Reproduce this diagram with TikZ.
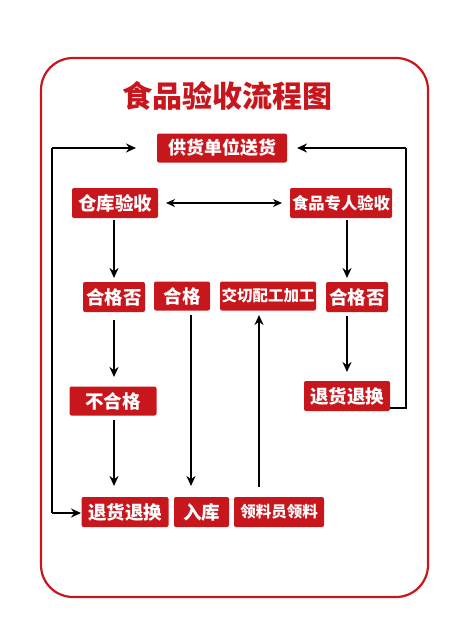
\documentclass[tikz,border=0pt]{standalone}
\usepackage{fontspec}
\newfontfamily\cjk{Noto Sans CJK SC}
\usetikzlibrary{arrows.meta}
\definecolor{cred}{HTML}{C8161D}
\tikzset{
  box/.style={fill=cred, rounded corners=2pt, inner sep=0pt, text=white, font=\cjk\bfseries\fontsize{18.5}{18.5}\selectfont, minimum height=30pt},
  arr/.style={draw=black, line width=1.7pt, -{Stealth[length=10pt,width=9pt]}},
  darr/.style={draw=black, line width=1.4pt, {Stealth[length=9pt,width=8pt]}-{Stealth[length=9pt,width=8pt]}},
  ln/.style={draw=black, line width=1.7pt}
}
\begin{document}
\begin{tikzpicture}[x=1pt,y=-1pt]
\useasboundingbox (0,0) rectangle (474,632);
\draw[cred, line width=2.2pt, rounded corners=32pt] (41,58) rectangle (428,597);
\node[text=cred, font=\cjk\bfseries\fontsize{30}{30}\selectfont] (title) at (227,96) {食品验收流程图};
% nodes
\node[box, minimum width=130pt, minimum height=29pt, font=\cjk\bfseries\fontsize{18}{18}\selectfont] (supply) at (222,148) {供货单位送货};
\node[box, minimum width=86pt] (wh) at (115,203) {仓库验收};
\node[box, minimum width=102pt, font=\cjk\bfseries\fontsize{16.3}{16.3}\selectfont] (spec) at (341,203) {食品专人验收};
\node[box, minimum width=62pt] (q1) at (114,297) {合格否};
\node[box, minimum width=56pt, minimum height=29pt] (ok) at (182,296) {合格};
\node[box, minimum width=96pt, minimum height=29pt, font=\cjk\bfseries\fontsize{15.5}{15.5}\selectfont] (proc) at (268,296) {交切配工加工};
\node[box, minimum width=62pt] (q2) at (357,297) {合格否};
\node[box, minimum width=87pt, minimum height=29pt] (bad) at (113,401) {不合格};
\node[box, minimum width=86pt] (ret2) at (347,396) {退货退换};
\node[box, minimum width=87pt] (ret1) at (125,512) {退货退换};
\node[box, minimum width=55pt] (store) at (201.5,512) {入库};
\node[box, minimum width=90pt, font=\cjk\bfseries\fontsize{15.5}{15.5}\selectfont] (pick) at (279,512) {领料员领料};
% connector end points
\coordinate (d1) at (166,203);
\coordinate (d2) at (282,203);
\coordinate (w1) at (114,220);
\coordinate (w2) at (114,278);
\coordinate (s1) at (347,220);
\coordinate (s2) at (347,278);
\coordinate (q1a) at (114,320);
\coordinate (q1b) at (114,377);
\coordinate (ba) at (114,420);
\coordinate (bb) at (114,486);
\coordinate (oka) at (191,315);
\coordinate (okb) at (191,486);
\coordinate (pa) at (259,487);
\coordinate (pb) at (259,315);
\coordinate (q2a) at (347,316);
\coordinate (q2b) at (347,372);
\coordinate (r2) at (390,408);
\coordinate (rb) at (406,408);
\coordinate (rt) at (406,148);
\coordinate (ra) at (297,148);
\coordinate (lt) at (52,148);
\coordinate (la) at (136,148);
\coordinate (lb) at (52,513);
\coordinate (lr) at (81,513);
% connectors
\draw[darr] (d1) -- (d2);
\draw[arr] (w1) -- (w2);
\draw[arr] (s1) -- (s2);
\draw[arr] (q1a) -- (q1b);
\draw[arr] (ba) -- (bb);
\draw[arr] (oka) -- (okb);
\draw[arr] (pa) -- (pb);
\draw[arr] (q2a) -- (q2b);
\draw[ln] (r2) -- (rb) -- (rt);
\draw[arr] (rt) -- (ra);
\draw[ln] (lb) -- (lt);
\draw[arr] (lt) -- (la);
\draw[arr] (lb) -- (lr);
\end{tikzpicture}
\end{document}
